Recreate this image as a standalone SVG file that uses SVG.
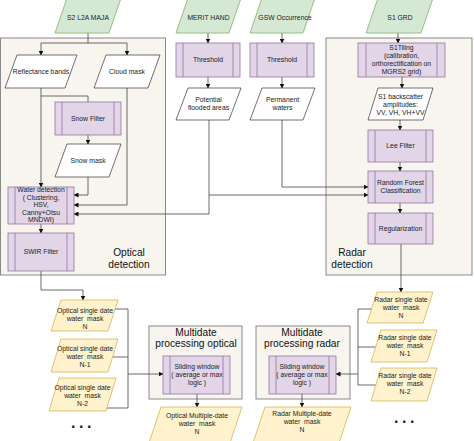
<svg xmlns="http://www.w3.org/2000/svg" width="474" height="441" viewBox="0 0 474 441">
<style>
text{font-family:"Liberation Sans",Arial,sans-serif;fill:#222;text-anchor:middle}
.s{font-size:6.8px}
.t{font-size:10.2px;fill:#111}
.dots{font-size:16px;font-weight:bold;letter-spacing:3.6px;text-anchor:start}
.cont{fill:#f7f5ee;stroke:#8a8a8a;stroke-width:1}
.green{fill:#d5e8d4;stroke:#82b366;stroke-width:0.8}
.proc{fill:#e1d5e7;stroke:#9673a6;stroke-width:0.8}
.inner{stroke:#9673a6;stroke-width:0.8;fill:none}
.white{fill:#fff;stroke:#333;stroke-width:0.7}
.yel{fill:#fff2cc;stroke:#d6b656;stroke-width:0.8}
.c{fill:none;stroke:#444;stroke-width:0.8}
.ca{fill:none;stroke:#444;stroke-width:0.8;marker-end:url(#ah)}
</style>
<defs>
<marker id="ah" markerWidth="5" markerHeight="5" refX="4.5" refY="2.5" orient="auto" markerUnits="userSpaceOnUse">
<path d="M0,0 L5,2.5 L0,5 Z" fill="#111"/>
</marker>
</defs>
<rect width="474" height="441" fill="#fff"/>

<!-- containers -->
<g id="optical-detection">
<rect class="cont" x="0.5" y="38" width="165" height="237"/>
<text class="t" x="129" y="255.5">Optical</text>
<text class="t" x="129" y="267.5">detection</text>
</g>
<g id="radar-detection">
<rect class="cont" x="326" y="38" width="146" height="237"/>
<text class="t" x="352" y="256">Radar</text>
<text class="t" x="352" y="268">detection</text>
</g>
<g id="multidate-optical">
<rect class="cont" x="149" y="326" width="93" height="73"/>
<text class="t" x="196" y="335.5">Multidate</text>
<text class="t" x="196" y="347">processing optical</text>
</g>
<g id="multidate-radar">
<rect class="cont" x="256" y="326" width="94" height="73"/>
<text class="t" x="302" y="335.5">Multidate</text>
<text class="t" x="302" y="347">processing radar</text>
</g>

<!-- connectors -->
<g id="connectors">
<path class="ca" d="M88,33 V43 H41 V55"/>
<path class="ca" d="M88,43 H127 V55"/>
<path class="ca" d="M41,88 V187"/>
<path class="c" d="M41,96 H88 V102"/>
<path class="ca" d="M88,135 V144"/>
<path class="ca" d="M88,177 V195 H74"/>
<path class="ca" d="M127,88 V205 H74"/>
<path class="ca" d="M209,120 V214 H74"/>
<path class="ca" d="M209,195 H368"/>
<path class="ca" d="M282,120 V187 H368"/>
<path class="ca" d="M208,33 V43"/>
<path class="ca" d="M208,77 V88"/>
<path class="ca" d="M282,33 V43"/>
<path class="ca" d="M282,77 V88"/>
<path class="ca" d="M398,33 V43"/>
<path class="ca" d="M402,77 V88"/>
<path class="ca" d="M400,120 V130"/>
<path class="ca" d="M400,162 V171"/>
<path class="ca" d="M400,203 V213"/>
<path class="ca" d="M401,244 V292"/>
<path class="ca" d="M41,224 V233"/>
<path class="ca" d="M41,271 V290 H83 V300"/>
<path class="c" d="M115,309 H128 V408 H107 M112,357 H128"/>
<path class="ca" d="M128,374 H163"/>
<path class="ca" d="M197,394 V407"/>
<path class="c" d="M372,309 H358 V385 H376 M376,347 H358"/>
<path class="ca" d="M358,374 H336"/>
<path class="ca" d="M302,394 V407"/>
</g>

<!-- inputs -->
<g id="s2-l2a-maja">
<polygon class="green" points="67,-2 121,-2 109,33 55,33"/>
<text class="s" x="88" y="19.5">S2 L2A MAJA</text>
</g>
<g id="merit-hand">
<polygon class="green" points="188,-2 241,-2 229,33 176,33"/>
<text class="s" x="208.5" y="19.5">MERIT HAND</text>
</g>
<g id="gsw-occurrence">
<polygon class="green" points="262,-2 315,-2 303,33 250,33"/>
<text class="s" x="285" y="19.5">GSW Occurrence</text>
</g>
<g id="s1-grd">
<polygon class="green" points="378,-2 433,-2 421,33 366,33"/>
<text class="s" x="400" y="19.5">S1 GRD</text>
</g>

<!-- processes -->
<g id="threshold-merit">
<rect class="proc" x="176" y="43" width="64" height="34"/>
<path class="inner" d="M183,43 V77 M233,43 V77"/>
<text class="s" x="208" y="62.4">Threshold</text>
</g>
<g id="threshold-gsw">
<rect class="proc" x="250" y="43" width="64" height="34"/>
<path class="inner" d="M257,43 V77 M307,43 V77"/>
<text class="s" x="282" y="62.4">Threshold</text>
</g>
<g id="s1tiling">
<rect class="proc" x="358" y="43" width="87" height="34"/>
<path class="inner" d="M366,43 V77 M437,43 V77"/>
<text class="s" x="401.5" y="50.4">S1Tiling</text>
<text class="s" x="401.5" y="58.4">(calibration,</text>
<text class="s" x="401.5" y="66.4">orthorectification on</text>
<text class="s" x="401.5" y="74.4">MGRS2 grid)</text>
</g>
<g id="snow-filter">
<rect class="proc" x="55" y="102" width="66" height="33"/>
<path class="inner" d="M62,102 V135 M114,102 V135"/>
<text class="s" x="88" y="120.9">Snow Filter</text>
</g>
<g id="water-detection">
<rect class="proc" x="8" y="187" width="66" height="37"/>
<path class="inner" d="M15,187 V224 M67,187 V224"/>
<text class="s" x="41" y="192.2">Water detection</text>
<text class="s" x="41" y="199.7">( Clustering,</text>
<text class="s" x="41" y="207.2">HSV,</text>
<text class="s" x="41" y="214.7">Canny+Otsu</text>
<text class="s" x="41" y="222.2">MNDWI)</text>
</g>
<g id="swir-filter">
<rect class="proc" x="8" y="233" width="66" height="38"/>
<path class="inner" d="M15,233 V271 M67,233 V271"/>
<text class="s" x="41" y="254.4">SWIR Filter</text>
</g>
<g id="lee-filter">
<rect class="proc" x="368" y="130" width="65" height="32"/>
<path class="inner" d="M375,130 V162 M426,130 V162"/>
<text class="s" x="400.5" y="148.4">Lee Filter</text>
</g>
<g id="random-forest">
<rect class="proc" x="368" y="171" width="65" height="32"/>
<path class="inner" d="M375,171 V203 M426,171 V203"/>
<text class="s" x="400.5" y="185.4">Random Forest</text>
<text class="s" x="400.5" y="193.4">Classification</text>
</g>
<g id="regularization">
<rect class="proc" x="368" y="213" width="65" height="31"/>
<path class="inner" d="M375,213 V244 M426,213 V244"/>
<text class="s" x="400.5" y="230.9">Regularization</text>
</g>
<g id="sliding-window-optical">
<rect class="proc" x="163" y="356" width="67" height="38"/>
<path class="inner" d="M170,356 V394 M223,356 V394"/>
<text class="s" x="197" y="369.4">Sliding window</text>
<text class="s" x="197" y="377.4">( average or max</text>
<text class="s" x="197" y="385.4">logic )</text>
</g>
<g id="sliding-window-radar">
<rect class="proc" x="269" y="356" width="67" height="38"/>
<path class="inner" d="M276,356 V394 M329,356 V394"/>
<text class="s" x="302" y="369.4">Sliding window</text>
<text class="s" x="302" y="377.4">( average or max</text>
<text class="s" x="302" y="385.4">logic )</text>
</g>

<!-- data (white) -->
<g id="reflectance-bands">
<polygon class="white" points="17,55 77,55 65,88 5,88"/>
<text class="s" x="41" y="74">Reflectance bands</text>
</g>
<g id="cloud-mask">
<polygon class="white" points="106,55 160,55 148,88 94,88"/>
<text class="s" x="127" y="74">Cloud mask</text>
</g>
<g id="snow-mask">
<polygon class="white" points="67,144 121,144 109,177 55,177"/>
<text class="s" x="88" y="163">Snow mask</text>
</g>
<g id="potential-flooded-areas">
<polygon class="white" points="188,88 241,88 229,120 176,120"/>
<text class="s" x="208.5" y="102.4">Potential</text>
<text class="s" x="208.5" y="110.4">flooded areas</text>
</g>
<g id="permanent-waters">
<polygon class="white" points="262,88 315,88 303,120 250,120"/>
<text class="s" x="282.5" y="102.4">Permanent</text>
<text class="s" x="282.5" y="110.4">waters</text>
</g>
<g id="s1-backscatter">
<polygon class="white" points="378,88 433,88 423,120 368,120"/>
<text class="s" x="400.5" y="99.4">S1 backscatter</text>
<text class="s" x="400.5" y="107.4">amplitudes:</text>
<text class="s" x="400.5" y="115.4">VV, VH, VH+VV</text>
</g>

<!-- yellow masks -->
<g id="optical-mask-n">
<polygon class="yel" points="61,300 118,300 108,331 51,331"/>
<text class="s" x="85" y="313.4">Optical single date</text>
<text class="s" x="85" y="321.4" xml:space="preserve">water  mask</text>
<text class="s" x="85" y="329.4">N</text>
</g>
<g id="optical-mask-n1">
<polygon class="yel" points="61,339 118,339 108,372 51,372"/>
<text class="s" x="85" y="351.4">Optical single date</text>
<text class="s" x="85" y="359.4" xml:space="preserve">water  mask</text>
<text class="s" x="85" y="367.4">N-1</text>
</g>
<g id="optical-mask-n2">
<polygon class="yel" points="59,378 116,378 106,411 49,411"/>
<text class="s" x="82.5" y="390.4">Optical single date</text>
<text class="s" x="82.5" y="398.4" xml:space="preserve">water  mask</text>
<text class="s" x="82.5" y="406.4">N-2</text>
</g>
<g id="optical-more">
<text class="dots" x="71" y="428">...</text>
</g>
<g id="optical-multidate-mask">
<polygon class="yel" points="161,407 242,407 229,446 148,446"/>
<text class="s" x="197" y="418.4">Optical Multiple-date</text>
<text class="s" x="197" y="426.4" xml:space="preserve">water  mask</text>
<text class="s" x="197" y="434.4">N</text>
</g>
<g id="radar-mask-n">
<polygon class="yel" points="377,292 433,292 423,323 367,323"/>
<text class="s" x="401" y="302.4">Radar single date</text>
<text class="s" x="401" y="310.4" xml:space="preserve">water  mask</text>
<text class="s" x="401" y="318.4">N</text>
</g>
<g id="radar-mask-n1">
<polygon class="yel" points="381,330 437,330 427,362 371,362"/>
<text class="s" x="405" y="340.4">Radar single date</text>
<text class="s" x="405" y="348.4" xml:space="preserve">water  mask</text>
<text class="s" x="405" y="356.4">N-1</text>
</g>
<g id="radar-mask-n2">
<polygon class="yel" points="381,368 437,368 427,401 371,401"/>
<text class="s" x="405" y="378.4">Radar single date</text>
<text class="s" x="405" y="386.4" xml:space="preserve">water  mask</text>
<text class="s" x="405" y="394.4">N-2</text>
</g>
<g id="radar-more">
<text class="dots" x="394" y="423">...</text>
</g>
<g id="radar-multidate-mask">
<polygon class="yel" points="265,407 351,407 338,446 252,446"/>
<text class="s" x="302" y="416.4">Radar Multiple-date</text>
<text class="s" x="302" y="424.4" xml:space="preserve">water  mask</text>
<text class="s" x="302" y="432.4">N</text>
</g>
</svg>
